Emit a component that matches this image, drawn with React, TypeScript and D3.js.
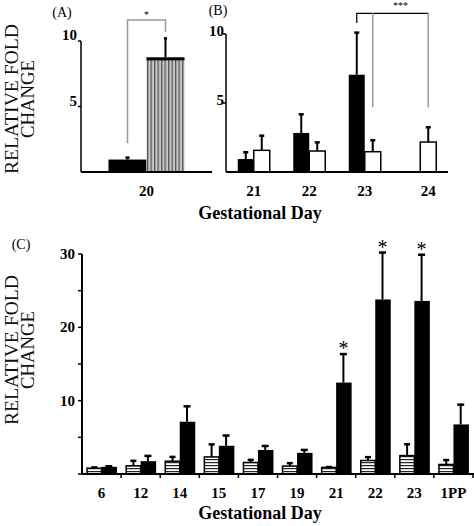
import * as d3 from 'd3';
import React from 'react';

// panel A: gestational day 20, two groups
const daysA = ['20'];
const aBlack = [0.95];
const aBlackErr = [1.1];
const aStriped = [8.75];
const aStripedErr = [10.2];

// panel B: days 21-24, black vs white groups (no black bar on day 24)
const daysB = ['21', '22', '23', '24'];
const bBlack = [0.94, 2.83, 7.05, null];
const bBlackErr = [1.43, 4.18, 10.1, null];
const bWhite = [1.57, 1.52, 1.47, 2.17];
const bWhiteErr = [2.63, 2.15, 2.3, 3.24];

// panel C: full time course
const daysC = ['6', '12', '14', '15', '17', '19', '21', '22', '23', '1PP'];
const cStriped = [0.8, 1.12, 1.75, 2.33, 1.57, 1.08, 0.9, 1.84, 2.51, 1.3];
const cStripedErr = [0.9, 1.8, 2.33, 4.04, 1.93, 1.48, 0.95, 2.3, 4.05, 1.9];
const cBlack = [0.98, 1.75, 7.13, 3.85, 3.28, 2.88, 12.47, 23.8, 23.6, 6.76];
const cBlackErr = [1.05, 2.47, 9.23, 5.25, 3.82, 3.28, 16.35, 30.2, 29.9, 9.46];
const cSignif = ['21', '22', '23'];

const yTicksAB = [5, 10];
const yTicksC = [10, 20, 30];
const yMinorC = [0, 5, 15, 25];

const font = 'Liberation Serif';

const ErrBar = ({ x, y0, y1, w = 7 }) => (
  <g stroke="#000" strokeWidth={2}>
    <line x1={x} x2={x} y1={y0} y2={y1} />
    <line x1={x - w / 2} x2={x + w / 2} y1={y1} y2={y1} strokeWidth={2.5} />
  </g>
);

const YTitle = ({ cy }) => (
  <g style={{ fontFamily: font }} fontSize={19} fill="#111" textAnchor="middle">
    <text transform={`translate(18,${cy}) rotate(-90)`} textLength={150} lengthAdjust="spacingAndGlyphs">RELATIVE FOLD</text>
    <text transform={`translate(34,${cy}) rotate(-90)`} textLength={78} lengthAdjust="spacingAndGlyphs">CHANGE</text>
  </g>
);

const PanelA = () => {
  const x = d3.scaleBand().domain(daysA).range([81, 212]);
  const y = d3.scaleLinear().domain([0, 10]).range([172, 41]);
  const bw = 38;
  const cx = (d) => x(d) + x.bandwidth() / 2;
  const blackMid = cx('20') - bw / 2;
  const stripeMid = cx('20') + bw / 2;
  return (
    <g style={{ fontFamily: font }}>
      <text x={62} y={17} fontSize={14} textAnchor="middle">(A)</text>
      {daysA.map((d, i) => (
        <g key={d}>
          <rect x={cx(d) - bw} y={y(aBlack[i])} width={bw} height={y(0) - y(aBlack[i])} fill="#000" />
          <rect x={cx(d)} y={y(aStriped[i])} width={bw} height={y(0) - y(aStriped[i])} fill="url(#vstripe)" />
          <rect x={cx(d)} y={y(aStriped[i])} width={bw} height={3} fill="#000" />
          <ErrBar x={blackMid} y0={y(aBlack[i])} y1={y(aBlackErr[i])} w={4} />
          <ErrBar x={stripeMid} y0={y(aStriped[i])} y1={y(aStripedErr[i])} w={3} />
          <text x={cx(d)} y={196} fontSize={15} fontWeight="bold" textAnchor="middle">{d}</text>
        </g>
      ))}
      {/* significance bracket */}
      <path
        d={`M${blackMid},${y(2.2)}V${y(11.6)}H${stripeMid}V${y(10.7)}`}
        fill="none"
        stroke="#999"
        strokeWidth={1.5}
      />
      <text x={(blackMid + stripeMid) / 2} y={y(11.6) - 2} fontSize={10} textAnchor="middle">*</text>
      <line x1={81} x2={81} y1={y(10)} y2={y(0)} stroke="#000" strokeWidth={1.5} />
      <line x1={81} x2={212} y1={y(0)} y2={y(0)} stroke="#000" strokeWidth={2} />
      {yTicksAB.map((t) => (
        <g key={t}>
          <line x1={78} x2={81} y1={y(t)} y2={y(t)} stroke="#000" strokeWidth={1.5} />
          <text x={77} y={y(t) - 1} fontSize={15} fontWeight="bold" textAnchor="end">{t}</text>
        </g>
      ))}
    </g>
  );
};

const PanelB = () => {
  const x = d3.scaleBand().domain(daysB).range([226, 448]);
  const y = d3.scaleLinear().domain([0, 10]).range([172, 34]);
  const bw = 16;
  const cx = (d) => x(d) + x.bandwidth() / 2;
  return (
    <g style={{ fontFamily: font }}>
      <text x={218} y={15} fontSize={14} textAnchor="middle">(B)</text>
      {daysB.map((d, i) => {
        const c = cx(d);
        const hasBlack = bBlack[i] != null;
        return (
          <g key={d}>
            {hasBlack && (
              <>
                <rect x={c - bw} y={y(bBlack[i])} width={bw} height={y(0) - y(bBlack[i])} fill="#000" />
                <ErrBar x={c - bw / 2} y0={y(bBlack[i])} y1={y(bBlackErr[i])} w={5} />
              </>
            )}
            <rect x={c} y={y(bWhite[i])} width={bw} height={y(0) - y(bWhite[i])} fill="#fff" stroke="#000" strokeWidth={1.5} />
            <ErrBar x={c + bw / 2} y0={y(bWhite[i])} y1={y(bWhiteErr[i])} w={5} />
            <text x={hasBlack ? c : c + bw / 2} y={196} fontSize={15} fontWeight="bold" textAnchor="middle">{d}</text>
          </g>
        );
      })}
      {/* day 23 black vs white vs day 24 */}
      <path d={`M${cx('23') - bw / 2},${y(10.8)}V${y(11.5)}H${cx('24') + bw / 2}`} fill="none" stroke="#000" strokeWidth={1.2} />
      <path d={`M${cx('23') + bw / 2},${y(11.5)}V${y(4.7)}M${cx('24') + bw / 2},${y(11.5)}V${y(4.7)}`} fill="none" stroke="#999" strokeWidth={1.5} />
      <text x={(cx('23') + cx('24') + bw) / 2} y={y(11.5) - 4} fontSize={10} textAnchor="middle">***</text>
      <line x1={226} x2={226} y1={y(10)} y2={y(0)} stroke="#000" strokeWidth={1.5} />
      <line x1={226} x2={448} y1={y(0)} y2={y(0)} stroke="#000" strokeWidth={2} />
      {yTicksAB.map((t) => (
        <g key={t}>
          <line x1={223} x2={226} y1={y(t)} y2={y(t)} stroke="#000" strokeWidth={1.5} />
          <text x={224} y={y(t) + 2} fontSize={15} fontWeight="bold" textAnchor="end">{t}</text>
        </g>
      ))}
      <text x={260} y={219} fontSize={18} fontWeight="bold" textAnchor="middle">Gestational Day</text>
    </g>
  );
};

const PanelC = () => {
  const x = d3.scaleBand().domain(daysC).range([82, 473]);
  const y = d3.scaleLinear().domain([0, 30]).range([474, 254]);
  const bw = 14.5;
  const cx = (d) => x(d) + x.bandwidth() / 2;
  return (
    <g style={{ fontFamily: font }}>
      <text x={21} y={249} fontSize={14} textAnchor="middle">(C)</text>
      {daysC.map((d, i) => {
        const c = cx(d);
        return (
          <g key={d}>
            <rect x={c - bw} y={y(cStriped[i])} width={bw} height={y(0) - y(cStriped[i])} fill="url(#hstripe)" stroke="#000" strokeWidth={1.5} />
            <rect x={c} y={y(cBlack[i])} width={bw + 1} height={y(0) - y(cBlack[i])} fill="#000" />
            <ErrBar x={c - bw / 2} y0={y(cStriped[i])} y1={y(cStripedErr[i])} w={6} />
            <ErrBar x={c + bw / 2} y0={y(cBlack[i])} y1={y(cBlackErr[i])} w={7} />
            {cSignif.includes(d) && (
              <text x={c + bw / 2} y={y(cBlackErr[i]) + 1} fontSize={20} textAnchor="middle">*</text>
            )}
            <text x={c} y={498} fontSize={15} fontWeight="bold" textAnchor="middle">{d}</text>
          </g>
        );
      })}
      <line x1={82} x2={82} y1={y(30)} y2={y(0)} stroke="#000" strokeWidth={2} />
      <line x1={82} x2={474} y1={y(0)} y2={y(0)} stroke="#000" strokeWidth={2} />
      {x.domain().map((d) => (
        <line key={d} x1={x(d) + x.step()} x2={x(d) + x.step()} y1={y(0)} y2={y(0) + 4} stroke="#000" strokeWidth={1.5} />
      ))}
      {yMinorC.concat(yTicksC).map((t) => (
        <line key={t} x1={78} x2={82} y1={y(t)} y2={y(t)} stroke="#000" strokeWidth={1.5} />
      ))}
      {yTicksC.map((t) => (
        <text key={t} x={75} y={y(t) + 5} fontSize={15} fontWeight="bold" textAnchor="end">{t}</text>
      ))}
      <text x={260} y={519} fontSize={18} fontWeight="bold" textAnchor="middle">Gestational Day</text>
    </g>
  );
};

export default function App() {
  return (
    <svg width={474} height={526} style={{ position: 'absolute', left: 0, top: 0, background: '#fff' }}>
      <defs>
        <pattern id="vstripe" width={3.5} height={4} patternUnits="userSpaceOnUse">
          <rect width={3.5} height={4} fill="#c8c8c8" />
          <rect width={1.3} height={4} fill="#555" />
        </pattern>
        <pattern id="hstripe" width={4} height={3} patternUnits="userSpaceOnUse">
          <rect width={4} height={3} fill="#fff" />
          <rect width={4} height={1.2} fill="#222" />
        </pattern>
      </defs>
      <YTitle cy={99} />
      <PanelA />
      <PanelB />
      <YTitle cy={350} />
      <PanelC />
    </svg>
  );
}
